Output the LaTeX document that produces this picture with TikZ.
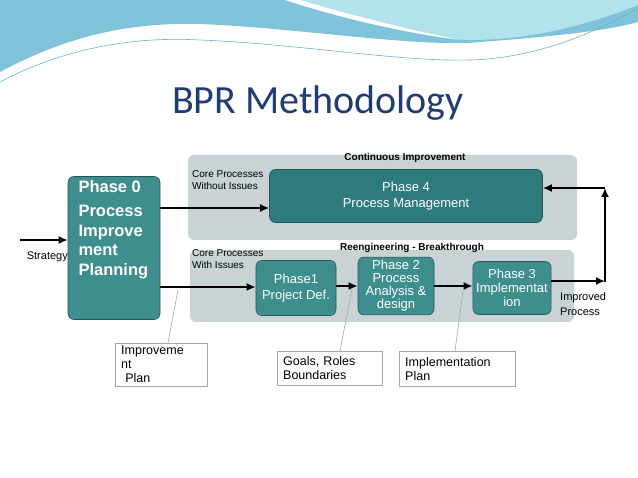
\documentclass[tikz,border=0pt]{standalone}
\usepackage{fontspec}
\setmainfont{Liberation Sans}
\newfontfamily\titlefont{Carlito}
\usetikzlibrary{arrows.meta}
\definecolor{teal0}{HTML}{3E8E8E}
\definecolor{teal4}{HTML}{2E7B7E}
\definecolor{regiongray}{HTML}{C9D3D6}
\definecolor{titleblue}{HTML}{1F3B78}
\definecolor{wave}{HTML}{7EC3DA}
\definecolor{wavelight}{HTML}{B2E2EA}
\begin{document}
\begin{tikzpicture}[x=1pt,y=-1pt,
  phase/.style={draw=teal0!60!black,fill=teal0,rounded corners=6pt,text=white,font=\bfseries,align=center,line width=0.6pt},
  region/.style={fill=regiongray,rounded corners=6pt},
  flow/.style={-{Latex[length=9pt,width=8pt]},line width=2pt},
  note/.style={draw=gray!70,fill=white,align=left,font=\fontsize{12.5}{14}\selectfont,inner xsep=6pt,inner ysep=3pt,anchor=north west},
  lead/.style={draw=gray!70,line width=0.6pt},
  small/.style={font=\fontsize{10}{12}\selectfont,align=left}]
\useasboundingbox (0,0) rectangle (638,478);
\fill[white] (0,0) rectangle (638,478);
% header waves
\fill[wave] (0,0) -- (0,72) .. controls (60,40) and (120,22) .. (200,24) .. controls (300,28) and (420,48) .. (480,42) .. controls (560,36) and (610,30) .. (638,22) -- (638,0) -- cycle;
\fill[wavelight] (290,0) .. controls (360,20) and (420,38) .. (470,40) .. controls (540,40) and (600,20) .. (638,5) -- (638,0) -- cycle;
\fill[white] (285,0) .. controls (340,18) and (400,32) .. (460,40) .. controls (400,28) and (340,12) .. (300,0) -- cycle;
\draw[wave!80!teal,line width=0.6pt] (0,82) .. controls (60,50) and (130,36) .. (200,40) .. controls (300,44) and (400,62) .. (470,60) .. controls (540,58) and (600,30) .. (638,8);
% title
\node[font=\titlefont\fontsize{40}{46}\selectfont,text=titleblue] (title) at (318,103) {BPR Methodology};
% regions
\fill[region] (188,155) rectangle (577,240);
\fill[region] (190,250) rectangle (574,322);
\node[font=\bfseries\fontsize{10}{12}\selectfont] (ci) at (405,158) {Continuous Improvement};
\node[font=\bfseries\fontsize{10}{12}\selectfont] (rb) at (412,248) {Reengineering - Breakthrough};
% phase boxes
\node[phase,minimum width=92pt,minimum height=143pt] (p0) at (114,248) {};
\node[text=white,font=\bfseries\fontsize{16.5}{19.5}\selectfont,align=left,anchor=north west] (p0t) at (75,177) {Phase 0\\[5pt]Process\\Improve\\ment\\Planning};
\node[phase,fill=teal4,minimum width=273pt,minimum height=53pt,font=\fontsize{13}{16}\selectfont] (p4) at (406,196) {Phase 4\\Process Management};
\node[phase,minimum width=80pt,minimum height=55pt,font=\fontsize{13}{16}\selectfont] (p1) at (296,288) {Phase1\\Project Def.};
\node[phase,minimum width=76pt,minimum height=57pt,font=\fontsize{13}{13}\selectfont] (p2) at (396,286) {Phase 2\\Process\\Analysis \&\\design};
\node[phase,minimum width=75pt,minimum height=53pt,font=\fontsize{13}{14}\selectfont] (p3) at (512,288) {Phase 3\\Implementat\\ion};
% labels
\node[small,anchor=north west,inner xsep=2pt] (cw) at (190,167) {Core Processes\\Without Issues};
\node[small,anchor=north west,inner xsep=2pt] (ci2) at (190,246) {Core Processes\\With Issues};
\node[small,anchor=east,inner xsep=1pt,font=\fontsize{11}{13}\selectfont] (st) at (69,257) {Strategy};
\node[small,anchor=north west,inner xsep=2pt,font=\fontsize{11}{15}\selectfont] (ip) at (558,289) {Improved\\Process};
% arrows
\coordinate (s0) at (20,240);
\draw[flow] (s0) -- (p0.west |- s0);
\draw[flow] (p0.east |- 0,208) -- (p4.west |- 0,208);
\draw[flow] (p0.east |- 0,287) -- (p1.west |- 0,287);
\draw[flow] (p1.east |- 0,286) -- (p2.west |- 0,286);
\draw[flow] (p2.east |- 0,286) -- (p3.west |- 0,286);
\coordinate (c1) at (605,281);
\coordinate (c2) at (605,188);
\draw[flow] (p3.east |- c1) -- (c1);
\draw[flow] (605,282) -- (c2);
\draw[flow] (c2) -- (p4.east |- c2);
% notes
\node[note,text width=80pt,minimum height=38pt] (n1) at (115,343) {Improveme\\nt\\\ Plan};
\node[note,text width=93pt,minimum height=34pt] (n2) at (277,351) {Goals, Roles\\Boundaries};
\node[note,text width=104pt,minimum height=35pt] (n3) at (399,351) {Implementation\\Plan};
\coordinate (l1) at (178,290);
\coordinate (l2) at (352,289);
\coordinate (l3) at (463,291);
\draw[lead] (l1) -- (168,343);
\draw[lead] (l2) -- (340,351);
\draw[lead] (l3) -- (455,351);
\end{tikzpicture}
\end{document}
